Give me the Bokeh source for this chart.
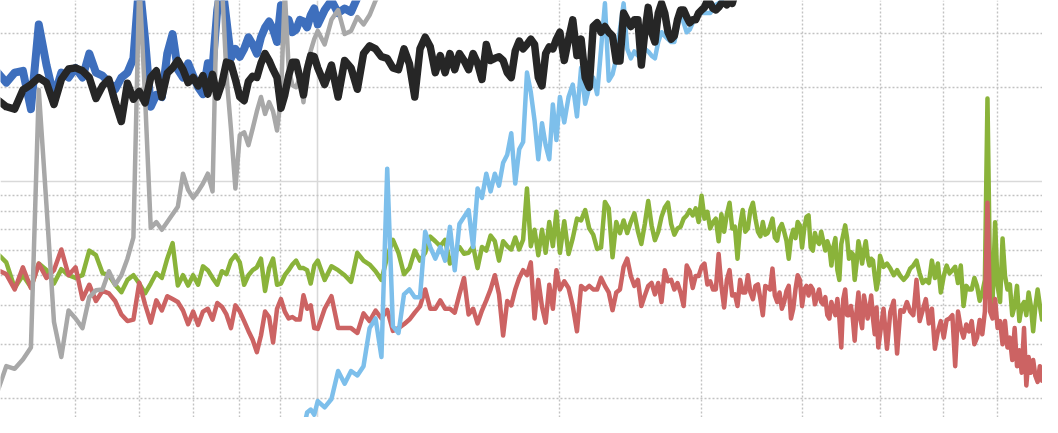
from bokeh.plotting import figure
from bokeh.models import FixedTicker, Range1d
from bokeh.embed import file_html
from bokeh.resources import INLINE

# shared x positions (log axis)
x_vals = [
    4.0, 4.1, 4.2, 4.3, 4.4, 4.5, 4.6, 4.7, 4.8, 4.9,
    5.0, 5.1, 5.2, 5.3, 5.4, 5.5, 5.6, 5.7, 5.8, 5.9,
    6.0, 6.1, 6.2, 6.3, 6.4, 6.5, 6.6, 6.7, 6.8, 6.9,
    7.0, 7.1, 7.2, 7.3, 7.4, 7.5, 7.6, 7.7, 7.8, 7.9,
    8.0, 8.1, 8.2, 8.3, 8.4, 8.5, 8.6, 8.7, 8.8, 8.9,
    9.0, 9.1, 9.2, 9.3, 9.4, 9.5, 9.6, 9.7, 9.8, 9.9,
    10.0,
    10.2, 10.4, 10.6, 10.8, 11.0, 11.2, 11.4, 11.6, 11.8, 12.0,
    12.2, 12.4, 12.6, 12.8, 13.0, 13.2, 13.4, 13.6, 13.8, 14.0,
    14.2, 14.4, 14.6, 14.8, 15.0, 15.2, 15.4, 15.6, 15.8, 16.0,
    16.2, 16.4, 16.6, 16.8, 17.0, 17.2, 17.4, 17.6, 17.8, 18.0,
    18.2, 18.4, 18.6, 18.8, 19.0, 19.2, 19.4, 19.6, 19.8, 20.0,
    20.25, 20.5, 20.75, 21.0, 21.25, 21.5, 21.75, 22.0, 22.25, 22.5,
    22.75, 23.0, 23.25, 23.5, 23.75, 24.0, 24.25, 24.5, 24.75, 25.0,
    25.25, 25.5, 25.75, 26.0, 26.25, 26.5, 26.75, 27.0, 27.25, 27.5,
    27.75, 28.0, 28.25, 28.5, 28.75, 29.0, 29.25, 29.5, 29.75, 30.0,
    30.25, 30.5, 30.75, 31.0, 31.25, 31.5, 31.75, 32.0, 32.25, 32.5,
    32.75, 33.0, 33.25, 33.5, 33.75, 34.0, 34.25, 34.5, 34.75, 35.0,
    35.25, 35.5, 35.75, 36.0, 36.25, 36.5, 36.75, 37.0, 37.25, 37.5,
    37.75, 38.0, 38.25, 38.5, 38.75, 39.0, 39.25, 39.5, 39.75, 40.0,
    40.25, 40.5, 40.75, 41.0, 41.25, 41.5, 41.75, 42.0, 42.25, 42.5,
    42.75, 43.0, 43.25, 43.5, 43.75, 44.0, 44.25, 44.5, 44.75, 45.0,
    45.25, 45.5, 45.75, 46.0, 46.25, 46.5, 46.75, 47.0, 47.25, 47.5,
    47.75, 48.0, 48.25, 48.5, 48.75, 49.0, 49.25, 49.5, 49.75, 50.0,
    50.5, 51.0, 51.5, 52.0, 52.5, 53.0, 53.5, 54.0, 54.5, 55.0,
    55.5, 56.0, 56.5, 57.0, 57.5, 58.0, 58.5, 59.0, 59.5, 60.0,
    60.5, 61.0, 61.5, 62.0, 62.5, 63.0, 63.5, 64.0, 64.5, 65.0,
    65.5, 66.0, 66.5, 67.0, 67.5, 68.0, 68.5, 69.0, 69.5, 70.0,
    70.5, 71.0, 71.5, 72.0, 72.5, 73.0, 73.5, 74.0, 74.5, 75.0,
    75.5, 76.0, 76.5, 77.0, 77.5, 78.0, 78.5, 79.0, 79.5, 80.0,
]

blue_y = [
    2.24,
    2.08, 2.24, 2.27, 1.71, 3.2, 2.37, 1.87, 2.24, 2.16, 2.32,
    2.16, 2.58, 2.24, 2.19, 2.08, 1.98, 2.16, 2.24, 2.49, 4.4,
    2.87, 1.74, 1.90, 1.87, 2.58, 2.98, 2.29, 2.16, 2.40, 2.19,
    2.01, 1.91, 2.40, 2.32, 3.56, 4.4, 3.31, 2.49, 2.67, 2.52,
    2.67, 2.91, 2.76, 2.58, 2.91, 3.13, 3.27, 3.08, 2.81, 3.69,
    3.20, 3.31, 3.02, 3.08, 3.31, 3.27, 3.13, 3.43, 3.60, 3.20,
    3.56, 3.82, 3.48, 3.60, 3.51, 3.9, 4.3,
]

grey_y = [
    0.212,
    0.255, 0.25, 0.268, 0.293, 1.97, 0.84, 0.354, 0.273, 0.385, 0.363,
    0.338, 0.425, 0.447, 0.450, 0.515, 0.466, 0.50, 0.565, 0.661, 4.4,
    1.87, 0.71, 0.741, 0.70, 0.741, 0.785, 0.83, 1.06, 0.94, 0.886,
    0.93, 0.986, 1.06, 0.93, 4.4, 4.4, 2.2, 1.48, 0.95, 1.41,
    1.44, 1.31, 1.48, 1.68, 1.87, 1.65, 1.80, 1.68, 1.46, 1.87,
    4.1, 2.32, 2.04, 2.01, 2.16, 1.80, 2.40, 2.63, 2.87, 3.05,
    2.76, 3.31, 3.56, 2.98, 3.05, 3.38, 3.20, 3.43, 3.82, 4.1,
]

black_y = [
    1.83,
    1.74, 1.71, 1.97, 2.05, 2.16, 2.08, 1.77, 2.13, 2.30, 2.32,
    2.27, 2.16, 1.85, 2.03, 2.13, 1.80, 1.56, 2.07, 1.84, 1.95,
    1.79, 2.16, 2.27, 1.87, 2.23, 2.32, 2.45, 2.29, 2.08, 2.16,
    2.03, 2.19, 1.91, 2.21, 1.87, 2.07, 2.42, 2.39, 2.13, 1.87,
    1.82, 2.10, 2.18, 2.16, 2.40, 2.58, 2.45, 2.29, 2.16, 1.72,
    1.90, 2.19, 2.42, 2.42, 2.16, 1.90, 2.29, 2.54, 2.52, 2.32,
    2.05, 2.37, 1.87, 2.45, 2.32, 1.98, 2.58, 2.73, 2.67, 2.52,
    2.49, 2.32, 2.29, 2.67, 2.39, 1.87, 2.67, 2.91, 2.71, 2.24,
    2.54, 2.24, 2.58, 2.29, 2.58, 2.45, 2.29, 2.58, 2.40, 2.13,
    2.76, 2.45, 2.49, 2.52, 2.45, 2.24, 2.16, 2.63, 2.83, 2.67,
    2.76, 2.87, 2.76, 2.16, 2.03, 2.58, 2.71, 2.67, 2.87, 3.02,
    2.45, 2.87, 3.31, 2.54, 2.87, 2.16, 2.01, 3.15, 3.24, 3.02,
    3.15, 3.02, 2.94, 2.44, 2.44, 3.48, 3.31, 3.15, 3.31, 3.31,
    2.37, 3.02, 3.63, 3.02, 2.81, 3.48, 3.74, 3.48, 3.02, 2.87,
    2.94, 3.31, 3.56, 3.56, 3.38, 3.24, 3.31, 3.31, 3.48, 3.56,
    3.63, 3.82, 3.74, 3.6, 3.56, 3.63, 3.74, 3.78, 3.7, 3.78,
    3.74, 4.0, 4.2, 4.4,
]

lightblue_start = 9.6
lightblue_y = [
    0.16, 0.181, 0.185, 0.178, 0.197,
    0.188, 0.2, 0.246, 0.224, 0.246, 0.238, 0.255, 0.338, 0.363, 0.273,
    1.10, 0.343, 0.326, 0.434, 0.450, 0.425, 0.425, 0.690, 0.616, 0.565,
    0.616, 0.557, 0.715, 0.519, 0.73, 0.77, 0.81, 0.616, 0.95, 0.886,
    1.06, 0.93, 1.06, 0.97, 1.15, 1.22, 1.43, 0.986, 1.27, 1.34,
    2.24, 1.94, 1.57, 1.18, 1.54, 1.31, 1.18, 1.77, 1.36, 1.87,
    1.55, 1.87, 2.05, 1.62, 2.32, 1.78, 2.01, 2.16, 1.91, 2.67,
    3.74, 2.11, 2.21, 2.49, 3.08, 3.74, 2.67, 2.49, 2.62, 2.54,
    2.67, 2.67, 2.62, 2.54, 2.49, 2.81, 3.02, 2.94, 2.87, 2.81,
    2.81, 3.15, 3.48, 3.24, 3.02, 3.08, 3.24, 3.38, 3.48, 3.48,
    3.48, 3.48, 3.48, 3.6, 3.7, 3.74, 3.8, 4.0, 4.2, 4.4,
]

green_y = [
    0.586,
    0.55, 0.455, 0.50, 0.457, 0.545, 0.52, 0.47, 0.523, 0.50, 0.49,
    0.50, 0.60, 0.58, 0.508, 0.50, 0.466, 0.441, 0.483, 0.50, 0.47,
    0.437, 0.47, 0.508, 0.49, 0.565, 0.634, 0.463, 0.50, 0.463, 0.50,
    0.466, 0.534, 0.519, 0.49, 0.466, 0.515, 0.504, 0.557, 0.58, 0.55,
    0.466, 0.50, 0.519, 0.53, 0.565, 0.445, 0.527, 0.565, 0.466, 0.47,
    0.50, 0.519, 0.541, 0.557, 0.527, 0.527, 0.519, 0.47, 0.537, 0.557,
    0.483, 0.534, 0.519, 0.50, 0.476, 0.59, 0.557, 0.541, 0.515, 0.483,
    0.573, 0.65, 0.59, 0.504, 0.527, 0.60, 0.557, 0.59, 0.665, 0.643,
    0.62, 0.65, 0.545, 0.59, 0.616, 0.586, 0.59, 0.62, 0.527, 0.616,
    0.60, 0.67, 0.643, 0.557, 0.643, 0.62, 0.605, 0.661, 0.605, 0.65,
    0.95, 0.62, 0.70, 0.58, 0.70, 0.59, 0.741, 0.62, 0.80, 0.59,
    0.746, 0.585, 0.658, 0.760, 0.75, 0.81, 0.707, 0.675, 0.607, 0.614,
    0.86, 0.82, 0.571, 0.741, 0.683, 0.75, 0.683, 0.741, 0.79, 0.693,
    0.63, 0.73, 0.866, 0.723, 0.648, 0.69, 0.77, 0.825, 0.855, 0.73,
    0.675, 0.707, 0.716, 0.76, 0.778, 0.81, 0.778, 0.82, 0.741, 0.9,
    0.76, 0.8, 0.707, 0.741, 0.76, 0.643, 0.785, 0.69, 0.785, 0.855,
    0.707, 0.716, 0.565, 0.723, 0.81, 0.69, 0.707, 0.81, 0.855, 0.76,
    0.69, 0.667, 0.741, 0.675, 0.683, 0.716, 0.76, 0.66, 0.646, 0.707,
    0.73, 0.69, 0.646, 0.565, 0.658, 0.70, 0.658, 0.741, 0.723, 0.614,
    0.707, 0.77, 0.778, 0.614, 0.6, 0.683, 0.643, 0.63, 0.69, 0.643,
    0.6, 0.643, 0.614, 0.537, 0.614, 0.658, 0.519, 0.483, 0.63, 0.675,
    0.723, 0.658, 0.565, 0.593, 0.585, 0.483, 0.545, 0.643, 0.6, 0.545,
    0.6, 0.643, 0.571, 0.537, 0.565, 0.557, 0.497, 0.45, 0.483, 0.577,
    0.532, 0.545, 0.525, 0.5, 0.519, 0.497, 0.483, 0.497, 0.525, 0.537,
    0.557, 0.507, 0.472, 0.483, 0.472, 0.557, 0.49, 0.545, 0.44, 0.497,
    0.537, 0.507, 0.519, 0.532, 0.472, 0.537, 0.398, 0.462, 0.45, 0.45,
    0.49, 0.462, 0.414, 0.44, 0.483, 1.85, 0.483, 0.41, 0.74, 0.462,
    0.41, 0.656, 0.497, 0.45, 0.467, 0.372, 0.398, 0.462, 0.356, 0.398,
    0.41, 0.372, 0.44, 0.398, 0.33, 0.398, 0.45, 0.40, 0.36, 0.38,
]

red_y = [
    0.519,
    0.504, 0.45, 0.53, 0.455, 0.545, 0.49, 0.519, 0.605, 0.50, 0.53,
    0.419, 0.466, 0.413, 0.445, 0.437, 0.413, 0.374, 0.356, 0.36, 0.473,
    0.403, 0.352, 0.415, 0.385, 0.428, 0.419, 0.41, 0.385, 0.348, 0.382,
    0.346, 0.382, 0.39, 0.36, 0.407, 0.396, 0.374, 0.338, 0.40, 0.382,
    0.356, 0.331, 0.31, 0.283, 0.32, 0.382, 0.367, 0.304, 0.39, 0.419,
    0.382, 0.363, 0.367, 0.36, 0.36, 0.431, 0.39, 0.40, 0.338, 0.336,
    0.39, 0.428, 0.338, 0.338, 0.338, 0.326, 0.377, 0.356, 0.385, 0.363,
    0.387, 0.331, 0.338, 0.348, 0.36, 0.379, 0.397, 0.45, 0.39, 0.39,
    0.415, 0.39, 0.39, 0.379, 0.434, 0.49, 0.374, 0.39, 0.35, 0.385,
    0.415, 0.45, 0.50, 0.434, 0.32, 0.413, 0.40, 0.45, 0.49, 0.519,
    0.50, 0.55, 0.363, 0.483, 0.396, 0.352, 0.466, 0.39, 0.519, 0.45,
    0.478, 0.455, 0.398, 0.33, 0.462, 0.45, 0.462, 0.45, 0.45, 0.49,
    0.462, 0.44, 0.386, 0.44, 0.45, 0.532, 0.565, 0.497, 0.462, 0.483,
    0.398, 0.43, 0.462, 0.472, 0.434, 0.472, 0.41, 0.519, 0.478, 0.483,
    0.45, 0.472, 0.44, 0.398, 0.537, 0.514, 0.455, 0.497, 0.497, 0.532,
    0.545, 0.467, 0.478, 0.45, 0.45, 0.585, 0.462, 0.394, 0.483, 0.519,
    0.43, 0.434, 0.398, 0.483, 0.44, 0.44, 0.5, 0.44, 0.419, 0.462,
    0.467, 0.419, 0.372, 0.462, 0.457, 0.45, 0.525, 0.43, 0.41, 0.44,
    0.39, 0.41, 0.445, 0.462, 0.363, 0.39, 0.45, 0.5, 0.483, 0.398,
    0.45, 0.462, 0.43, 0.462, 0.45, 0.403, 0.425, 0.45, 0.41, 0.403,
    0.425, 0.372, 0.363, 0.41, 0.39, 0.372, 0.419, 0.363, 0.293, 0.419,
    0.45, 0.372, 0.372, 0.398, 0.363, 0.308, 0.382, 0.44, 0.363, 0.338,
    0.43, 0.398, 0.363, 0.39, 0.43, 0.363, 0.323, 0.394, 0.293, 0.323,
    0.39, 0.29, 0.382, 0.414, 0.28, 0.386, 0.382, 0.41, 0.382, 0.372,
    0.483, 0.356, 0.386, 0.419, 0.35, 0.39, 0.29, 0.33, 0.356, 0.315,
    0.359, 0.363, 0.372, 0.255, 0.382, 0.338, 0.315, 0.347, 0.33, 0.356,
    0.30, 0.315, 0.359, 0.323, 0.382, 0.855, 0.382, 0.363, 0.419, 0.338,
    0.356, 0.30, 0.356, 0.293, 0.315, 0.267, 0.338, 0.255, 0.287, 0.243,
    0.338, 0.221, 0.273, 0.243, 0.267, 0.237, 0.227, 0.255, 0.229, 0.25,
]

x_major = [10]
x_minor = [5, 6, 7, 8, 9, 20, 30, 40, 50, 60, 70]
y_major = [1]
y_minor = [0.2, 0.3, 0.4, 0.5, 0.6, 0.7, 0.8, 0.9, 2, 3]


def xs_for(ys, start_value=None):
    i0 = 0 if start_value is None else x_vals.index(start_value)
    n = min(len(ys), len(x_vals) - i0)
    return x_vals[i0:i0 + n], ys[:n]


p = figure(width=1042, height=417,
           x_axis_type="log", y_axis_type="log",
           x_range=Range1d(4.033, 79.6), y_range=Range1d(0.1744, 3.82),
           x_axis_location=None, y_axis_location=None,
           toolbar_location=None, output_backend="svg",
           min_border=0, background_fill_color="white",
           border_fill_color="white")
p.outline_line_color = None

for g, major, minor in ((p.xgrid[0], x_major, x_minor), (p.ygrid[0], y_major, y_minor)):
    g.ticker = FixedTicker(ticks=major, minor_ticks=minor)
    g.grid_line_color = "#d9d9d9"
    g.grid_line_width = 1.6
    g.minor_grid_line_color = "#c2c2c2"
    g.minor_grid_line_width = 1.4
    g.minor_grid_line_dash = "2 2"

series = [
    (green_y, None, "#8ab33a", 4.5),
    (red_y, None, "#cc6363", 4.5),
    (blue_y, None, "#3e6fbd", 8),
    (grey_y, None, "#a8a8a8", 4.5),
    (lightblue_y, lightblue_start, "#7dbfeb", 4.5),
    (black_y, None, "#262626", 7.5),
]
for ys, start, color, w in series:
    xx, yy = xs_for(ys, start)
    p.line(xx, yy, line_color=color, line_width=w,
           line_join="round", line_cap="round")

open("out.html", "w").write(file_html(p, INLINE))
